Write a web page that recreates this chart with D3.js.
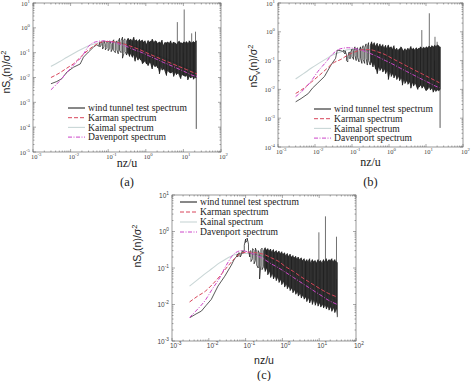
<!DOCTYPE html>
<html>
<head>
<meta charset="utf-8">
<script src="https://cdn.jsdelivr.net/npm/d3@7"></script>
<style>
  body { margin: 0; background: #fff; }
</style>
</head>
<body>
<div id="chart"></div>
<script>
// frequency grid (nz/u) used for the noisy part of the measured spectra
var bandFreq = [0.06, 0.065, 0.071, 0.077, 0.084, 0.092, 0.1, 0.11, 0.12, 0.13,
    0.14, 0.155, 0.17, 0.185, 0.2, 0.22, 0.24, 0.26, 0.28, 0.31,
    0.34, 0.37, 0.4, 0.44, 0.48, 0.52, 0.57, 0.62, 0.68, 0.74,
    0.81, 0.88, 0.96, 1.05, 1.15, 1.25, 1.36, 1.48, 1.62, 1.77,
    1.93, 2.1, 2.3, 2.5, 2.7, 3.0, 3.25, 3.55, 3.9, 4.25,
    4.6, 5.0, 5.5, 6.0, 6.5, 7.1, 7.8, 8.5, 9.3, 10.1,
    11, 12, 13.1, 14.3, 15.6, 17, 18.5, 20, 22, 24,
    26.5, 29, 31];

// frequency grid for the target spectra
var theoryFreq = [0.003, 0.005, 0.008, 0.012, 0.02, 0.03, 0.05, 0.08, 0.12, 0.2,
    0.3, 0.5, 0.8, 1.2, 2, 3, 5, 8, 12, 18, 23, 31];

var legendLabels = ["wind tunnel test spectrum", "Karman spectrum", "Kaimal spectrum", "Davenport spectrum"];
var legendLabelsC = ["wind tunnel test spectrum", "Karman spectrum", "Kainal spectrum", "Davenport spectrum"];

// ---- panel (a) ----
var tunnelStartA = [[0.003, 0.0056], [0.0043, 0.0069], [0.0058, 0.0089], [0.008, 0.0166], [0.012, 0.026],
    [0.018, 0.035], [0.022, 0.066], [0.03, 0.107], [0.041, 0.17], [0.05, 0.21], [0.055, 0.18]];
var tunnelLoA = [0.17, 0.2, 0.14, 0.18, 0.13, 0.16, 0.12, 0.15, 0.11, 0.14,
    0.12, 0.1, 0.13, 0.09, 0.12, 0.1, 0.06, 0.09, 0.11, 0.08,
    0.1, 0.07, 0.09, 0.065, 0.08, 0.045, 0.07, 0.05, 0.06, 0.05,
    0.036, 0.04, 0.045, 0.035, 0.03, 0.04, 0.036, 0.022, 0.033, 0.027,
    0.03, 0.024, 0.014, 0.025, 0.02, 0.022, 0.018, 0.012, 0.019, 0.016,
    0.015, 0.017, 0.011, 0.016, 0.013, 0.015, 0.012, 0.009, 0.013, 0.012,
    0.011, 0.012, 0.008, 0.011, 0.0095, 0.011, 0.0085, 0.01, 0.009];
var tunnelHiA = [0.26, 0.28, 0.24, 0.3, 0.22, 0.29, 0.25, 0.3, 0.22, 0.28,
    0.33, 0.26, 0.3, 0.28, 0.38, 0.3, 0.42, 0.33, 0.36, 0.3,
    0.38, 0.32, 0.35, 0.3, 0.42, 0.3, 0.33, 0.28, 0.34, 0.29,
    0.32, 0.27, 0.3, 0.22, 0.31, 0.27, 0.29, 0.35, 0.26, 0.3,
    0.28, 0.24, 0.27, 0.25, 0.32, 0.2, 0.26, 0.25, 0.27, 0.24,
    0.3, 0.23, 0.27, 0.25, 0.22, 0.26, 0.29, 0.25, 0.24, 0.27,
    0.25, 0.28, 0.24, 0.3, 0.26, 0.25, 0.28, 0.26, 0.3];
var tunnelSpikesA = [[6.9, 0.1, 1.7], [10.5, 0.1, 5.5], [16.6, 0.1, 0.6], [21, 0.1, 0.7]];
var tunnelEndA = [22, 8.5e-5];
var karmanA = [0.01, 0.015, 0.024, 0.036, 0.075, 0.13, 0.22, 0.28, 0.28, 0.25,
    0.21, 0.16, 0.12, 0.09, 0.065, 0.05, 0.036, 0.027, 0.021, 0.016, 0.014];
var kaimalA = [0.028, 0.043, 0.065, 0.092, 0.14, 0.19, 0.24, 0.27, 0.27, 0.25,
    0.22, 0.18, 0.14, 0.11, 0.08, 0.062, 0.045, 0.033, 0.025, 0.019, 0.016];
var davenportA = [0.0032, 0.007, 0.016, 0.032, 0.07, 0.18, 0.28, 0.3, 0.27, 0.22,
    0.18, 0.13, 0.1, 0.075, 0.053, 0.04, 0.029, 0.021, 0.016, 0.012, 0.011];

// ---- panel (b) ----
var tunnelStartB = [[0.003, 0.0037], [0.0042, 0.0048], [0.0066, 0.0072], [0.0085, 0.011], [0.0115, 0.016],
    [0.018, 0.028], [0.027, 0.07], [0.036, 0.12], [0.04, 0.23], [0.05, 0.22], [0.055, 0.21]];
var tunnelLoB = [0.19, 0.17, 0.1, 0.09, 0.12, 0.12, 0.14, 0.11, 0.15, 0.1,
    0.13, 0.09, 0.12, 0.08, 0.11, 0.08, 0.12, 0.07, 0.1, 0.07,
    0.09, 0.06, 0.08, 0.05, 0.035, 0.06, 0.045, 0.055, 0.04, 0.05,
    0.035, 0.045, 0.022, 0.04, 0.028, 0.035, 0.025, 0.032, 0.022, 0.028,
    0.02, 0.025, 0.014, 0.022, 0.016, 0.02, 0.015, 0.018, 0.011, 0.017,
    0.013, 0.016, 0.013, 0.01, 0.012, 0.014, 0.011, 0.013, 0.011, 0.009,
    0.01, 0.012, 0.0095, 0.011, 0.008, 0.01, 0.0085, 0.0095, 0.009, 0.01];
var tunnelHiB = [0.23, 0.22, 0.16, 0.14, 0.2, 0.2, 0.25, 0.22, 0.3, 0.24,
    0.28, 0.22, 0.3, 0.26, 0.33, 0.28, 0.38, 0.3, 0.42, 0.33,
    0.45, 0.35, 0.42, 0.32, 0.4, 0.3, 0.38, 0.3, 0.36, 0.28,
    0.34, 0.27, 0.35, 0.28, 0.3, 0.25, 0.33, 0.24, 0.27, 0.23,
    0.26, 0.3, 0.25, 0.22, 0.26, 0.23, 0.27, 0.24, 0.31, 0.25,
    0.27, 0.24, 0.28, 0.25, 0.27, 0.3, 0.26, 0.29, 0.27, 0.3,
    0.28, 0.32, 0.29, 0.33, 0.3, 0.34, 0.31, 0.35, 0.33, 0.3];
var tunnelSpikesB = [[7.7, 0.1, 1.15], [12.3, 0.1, 4.4], [17.5, 0.1, 0.67], [20, 0.1, 0.45]];
var tunnelEndB = [24, 4.6e-4];
var karmanB = [0.0072, 0.011, 0.018, 0.028, 0.05, 0.08, 0.11, 0.16, 0.2, 0.24,
    0.24, 0.2, 0.16, 0.12, 0.085, 0.065, 0.046, 0.034, 0.026, 0.02, 0.017];
var kaimalB = [0.023, 0.036, 0.055, 0.077, 0.115, 0.155, 0.2, 0.24, 0.25, 0.24,
    0.22, 0.18, 0.14, 0.11, 0.08, 0.062, 0.045, 0.033, 0.025, 0.019, 0.016];
var davenportB = [0.0056, 0.01, 0.02, 0.042, 0.09, 0.17, 0.26, 0.28, 0.26, 0.22,
    0.18, 0.135, 0.1, 0.078, 0.055, 0.042, 0.03, 0.022, 0.017, 0.013, 0.0115];

// ---- panel (c) ----
var tunnelStartC = [[0.0031, 0.0044], [0.0045, 0.0055], [0.0063, 0.0066], [0.0085, 0.0095], [0.0117, 0.0138],
    [0.0178, 0.032], [0.027, 0.059], [0.041, 0.12], [0.05, 0.18], [0.056, 0.2]];
var tunnelLoC = [0.2, 0.22, 0.2, 0.23, 0.25, 0.3, 0.5, 0.55, 0.3, 0.2,
    0.15, 0.18, 0.13, 0.16, 0.12, 0.1, 0.05, 0.12, 0.09, 0.11,
    0.08, 0.1, 0.065, 0.08, 0.055, 0.07, 0.05, 0.06, 0.045, 0.055,
    0.04, 0.048, 0.035, 0.042, 0.03, 0.036, 0.027, 0.032, 0.024, 0.028,
    0.021, 0.025, 0.019, 0.022, 0.017, 0.02, 0.015, 0.018, 0.014, 0.016,
    0.012, 0.015, 0.011, 0.014, 0.01, 0.013, 0.0095, 0.012, 0.009, 0.011,
    0.0085, 0.01, 0.008, 0.0095, 0.0075, 0.009, 0.007, 0.0085, 0.0065, 0.008,
    0.006, 0.0075, 0.0045];
var tunnelHiC = [0.24, 0.26, 0.25, 0.27, 0.3, 0.42, 0.62, 0.66, 0.45, 0.28,
    0.3, 0.34, 0.3, 0.35, 0.28, 0.3, 0.25, 0.32, 0.35, 0.3,
    0.36, 0.31, 0.34, 0.3, 0.33, 0.28, 0.32, 0.27, 0.3, 0.26,
    0.29, 0.25, 0.28, 0.24, 0.26, 0.22, 0.25, 0.21, 0.24, 0.2,
    0.22, 0.19, 0.21, 0.18, 0.2, 0.17, 0.19, 0.16, 0.18, 0.15,
    0.17, 0.15, 0.18, 0.14, 0.17, 0.15, 0.16, 0.14, 0.17, 0.15,
    0.16, 0.14, 0.17, 0.15, 0.18, 0.15, 0.17, 0.16, 0.18, 0.15,
    0.17, 0.15, 0.14];
var tunnelSpikesC = [[9.8, 0.05, 0.95], [14.8, 0.05, 2.6], [29.5, 0.05, 0.72]];
var tunnelEndC = [31, 0.0045];
var karmanC = [0.0117, 0.017, 0.023, 0.034, 0.06, 0.1, 0.18, 0.26, 0.27, 0.26,
    0.24, 0.19, 0.15, 0.11, 0.08, 0.06, 0.043, 0.032, 0.025, 0.02, 0.018, 0.016];
var kaimalC = [0.032, 0.048, 0.07, 0.095, 0.14, 0.18, 0.23, 0.25, 0.25, 0.23,
    0.21, 0.17, 0.13, 0.1, 0.075, 0.058, 0.042, 0.031, 0.024, 0.018, 0.015, 0.013];
var davenportC = [0.0044, 0.0075, 0.013, 0.025, 0.055, 0.12, 0.25, 0.3, 0.27, 0.22,
    0.18, 0.13, 0.1, 0.077, 0.055, 0.042, 0.03, 0.022, 0.017, 0.013, 0.0115, 0.01];

var serif = "'Liberation Serif', 'Times New Roman', serif";
var sans = "'Liberation Sans', Arial, sans-serif";

// styles of the four curves, in legend order
var curveStyles = [
    { color: "#111", width: 0.7, dash: null },
    { color: "#d8455a", width: 1, dash: "4,2" },
    { color: "#c9d6d6", width: 1.1, dash: null },
    { color: "#cc44c8", width: 1, dash: "4,1.5,1,1.5" }
];

var panels = [
    { name: "a", left: 33, right: 221, top: 3, bottom: 152, ymin: 1e-5,
      start: tunnelStartA, lo: tunnelLoA, hi: tunnelHiA, spikes: tunnelSpikesA, end: tunnelEndA,
      karman: karmanA, kaimal: kaimalA, davenport: davenportA, labels: legendLabels,
      legendX: 68, legendY: 108, legendStep: 9.7, tickFont: serif,
      ylabelX: 10, ylabelY: 72, xlabelY: 167, xlabelFont: serif, xlabelSize: 12,
      caption: "(a)", captionY: 186 },
    { name: "b", left: 278, right: 463, top: 3, bottom: 147, ymin: 1e-4,
      start: tunnelStartB, lo: tunnelLoB, hi: tunnelHiB, spikes: tunnelSpikesB, end: tunnelEndB,
      karman: karmanB, kaimal: kaimalB, davenport: davenportB, labels: legendLabels,
      legendX: 314, legendY: 109, legendStep: 9.7, tickFont: serif,
      ylabelX: 257, ylabelY: 66, xlabelY: 166, xlabelFont: serif, xlabelSize: 12,
      caption: "(b)", captionY: 186 },
    { name: "c", left: 172, right: 356, top: 195, bottom: 341, ymin: 1e-3,
      start: tunnelStartC, lo: tunnelLoC, hi: tunnelHiC, spikes: tunnelSpikesC, end: tunnelEndC,
      karman: karmanC, kaimal: kaimalC, davenport: davenportC, labels: legendLabelsC,
      legendX: 180, legendY: 202, legendStep: 10, tickFont: sans,
      ylabelX: 141, ylabelY: 246, xlabelY: 364, xlabelFont: sans, xlabelSize: 10.5,
      caption: "(c)", captionY: 379 }
];

var svg = d3.select("#chart").append("svg")
    .attr("width", 474)
    .attr("height", 381);

function drawPanel(p) {
    var x = d3.scaleLog().domain([1e-3, 1e2]).range([p.left, p.right]);
    var y = d3.scaleLog().domain([p.ymin, 10]).range([p.bottom, p.top]);
    var g = svg.append("g");

    g.append("clipPath").attr("id", "clip-" + p.name)
        .append("rect")
        .attr("x", p.left).attr("y", p.top)
        .attr("width", p.right - p.left).attr("height", p.bottom - p.top);

    var plot = g.append("g").attr("clip-path", "url(#clip-" + p.name + ")");

    var line = d3.line().x(function (d) { return x(d[0]); }).y(function (d) { return y(d[1]); });
    var smooth = d3.line().curve(d3.curveMonotoneX)
        .x(function (d) { return x(d[0]); }).y(function (d) { return y(d[1]); });

    function target(vals, st) {
        var data = vals.map(function (v, i) { return [theoryFreq[i], v]; });
        plot.append("path")
            .attr("d", smooth(data))
            .attr("fill", "none")
            .attr("stroke", st.color)
            .attr("stroke-width", st.width)
            .attr("stroke-dasharray", st.dash);
    }

    // Kaimal sits under the measured trace
    target(p.kaimal, curveStyles[2]);

    // measured spectrum: smooth low frequency part, then the noisy band as a zigzag
    var pts = p.start.slice();
    var band = [];
    p.lo.forEach(function (lo, i) {
        var f = bandFreq[i];
        if (i % 2) pts.push([f, lo], [f, p.hi[i]]);
        else pts.push([f, p.hi[i]], [f, lo]);
        if (f >= 0.3) band.push([f, lo, p.hi[i]]);
    });
    pts.push(p.end);

    // dense part of the record reads as a solid dark band
    plot.append("path")
        .attr("d", d3.area()
            .x(function (d) { return x(d[0]); })
            .y0(function (d) { return y(d[1]); })
            .y1(function (d) { return y(d[2]); })(band))
        .attr("fill", "#1a1a1a")
        .attr("fill-opacity", 0.8);

    plot.append("path")
        .attr("d", line(pts))
        .attr("fill", "none")
        .attr("stroke", curveStyles[0].color)
        .attr("stroke-width", curveStyles[0].width);

    plot.selectAll(".spike")
        .data(p.spikes)
        .enter().append("line")
        .attr("x1", function (d) { return x(d[0]); })
        .attr("x2", function (d) { return x(d[0]); })
        .attr("y1", function (d) { return y(d[1]); })
        .attr("y2", function (d) { return y(d[2]); })
        .attr("stroke", "#333")
        .attr("stroke-width", 0.7);

    target(p.karman, curveStyles[1]);
    target(p.davenport, curveStyles[3]);

    // frame
    g.append("rect")
        .attr("x", p.left).attr("y", p.top)
        .attr("width", p.right - p.left).attr("height", p.bottom - p.top)
        .attr("fill", "none").attr("stroke", "#555").attr("stroke-width", 0.6);

    // ticks, inward on all four sides
    var ticks = g.append("g").attr("stroke", "#555").attr("stroke-width", 0.5);
    for (var e = -3; e <= 2; e++) {
        for (var m = 1; m <= 9; m++) {
            var v = m * Math.pow(10, e);
            if (v > 100) break;
            var len = m === 1 ? 3 : 1.5;
            var px = x(v);
            ticks.append("line").attr("x1", px).attr("x2", px).attr("y1", p.bottom).attr("y2", p.bottom - len);
            ticks.append("line").attr("x1", px).attr("x2", px).attr("y1", p.top).attr("y2", p.top + len);
        }
    }
    var emin = Math.round(Math.log10(p.ymin));
    for (e = emin; e <= 1; e++) {
        for (m = 1; m <= 9; m++) {
            v = m * Math.pow(10, e);
            if (v > 10) break;
            len = m === 1 ? 3 : 1.5;
            var py = y(v);
            ticks.append("line").attr("y1", py).attr("y2", py).attr("x1", p.left).attr("x2", p.left + len);
            ticks.append("line").attr("y1", py).attr("y2", py).attr("x1", p.right).attr("x2", p.right - len);
        }
    }

    // tick labels as 10 with a raised exponent
    function powLabel(sel, exp) {
        sel.append("tspan").text("10");
        sel.append("tspan").attr("dy", -3).attr("font-size", 4.8).text(exp);
    }
    d3.range(-3, 3).forEach(function (ex) {
        var t = g.append("text")
            .attr("x", x(Math.pow(10, ex)) - 2)
            .attr("y", p.bottom + 7)
            .attr("font-family", p.tickFont).attr("font-size", 6.5).attr("fill", "#444");
        powLabel(t, ex);
    });
    d3.range(emin, 2).forEach(function (ex) {
        var t = g.append("text")
            .attr("x", p.left - 11)
            .attr("y", y(Math.pow(10, ex)) + 2.5)
            .attr("font-family", p.tickFont).attr("font-size", 6.5).attr("fill", "#444");
        powLabel(t, ex);
        // right-align the whole label a little left of the frame
        var w = t.node().getComputedTextLength();
        t.attr("x", p.left - 3 - w);
    });

    // legend
    var lg = g.append("g");
    p.labels.forEach(function (lab, i) {
        var st = curveStyles[i];
        var ly = p.legendY + i * p.legendStep;
        lg.append("line")
            .attr("x1", p.legendX).attr("x2", p.legendX + 17)
            .attr("y1", ly).attr("y2", ly)
            .attr("stroke", st.color).attr("stroke-width", i === 0 ? 1 : st.width)
            .attr("stroke-dasharray", st.dash);
        lg.append("text")
            .attr("x", p.legendX + 20).attr("y", ly + 3.2)
            .attr("font-family", serif).attr("font-size", 9.6).attr("fill", "#222")
            .text(lab);
    });

    // axis labels
    var yl = g.append("text")
        .attr("transform", "translate(" + p.ylabelX + "," + p.ylabelY + ") rotate(-90)")
        .attr("text-anchor", "middle")
        .attr("font-family", sans).attr("font-size", 10.5).attr("fill", "#222");
    yl.append("tspan").text("nS");
    yl.append("tspan").attr("dy", 3).attr("font-size", 7.5).text("v");
    yl.append("tspan").attr("dy", -3).text("(n)/\u03c3");
    yl.append("tspan").attr("dy", -4).attr("font-size", 7.5).text("2");

    var cx = (p.left + p.right) / 2;
    g.append("text")
        .attr("x", cx).attr("y", p.xlabelY)
        .attr("text-anchor", "middle")
        .attr("font-family", p.xlabelFont).attr("font-size", p.xlabelSize).attr("fill", "#222")
        .text("nz/u");
    g.append("text")
        .attr("x", cx).attr("y", p.captionY)
        .attr("text-anchor", "middle")
        .attr("font-family", serif).attr("font-size", 12.5).attr("fill", "#222")
        .text(p.caption);
}

panels.forEach(drawPanel);
</script>
</body>
</html>
